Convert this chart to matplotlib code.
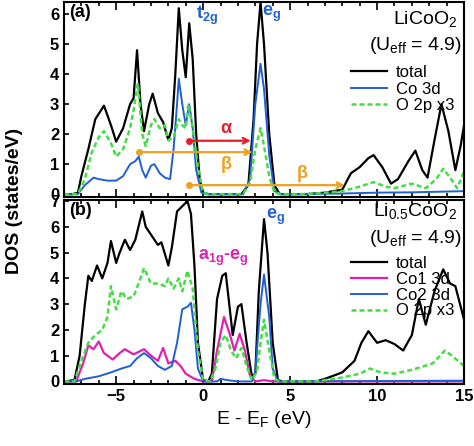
import matplotlib
matplotlib.use("Agg")
import matplotlib.pyplot as plt
from matplotlib.ticker import MultipleLocator

plt.rcParams['font.family'] = ['Liberation Sans', 'DejaVu Sans']
plt.rcParams['font.weight'] = 'bold'

# Panel (a) LiCoO2
a_tot_x = [-8,-7.5,-7.2,-7,-6.6,-6.2,-5.7,-5.3,-5,-4.6,-4.2,-4.0,-3.8,-3.6,-3.4,-3.1,-2.9,-2.6,-2.3,-2.0,-1.8,-1.6,-1.4,-1.2,-1.0,-0.8,-0.6,-0.4,-0.2,0,0.3,2.2,2.6,2.9,3.1,3.3,3.5,3.8,4.1,4.4,6,7,8,8.5,9,9.5,9.8,10.3,10.8,11.2,11.8,12.2,12.6,12.9,13.3,13.7,14.1,14.5,14.8,15]
a_tot_y = [0,0,0.05,0.6,1.5,2.5,2.95,2.3,1.75,2.2,3.0,3.2,4.8,3.0,2.1,3.0,3.35,2.7,2.4,1.8,2.2,4.0,6.2,4.8,3.9,5.7,4.5,2.0,0.5,0.05,0,0,0.3,2.5,5.0,6.4,5.0,2.0,0.3,0,0,0.05,0.15,0.7,0.9,1.2,1.3,0.9,0.35,0.5,1.1,1.45,0.8,0.55,1.8,3.0,2.1,0.8,1.6,2.3]
a_co_x = [-8,-7.2,-6.8,-6.3,-6.0,-5.5,-5,-4.6,-4.2,-3.9,-3.7,-3.5,-3.3,-3.0,-2.8,-2.5,-2.2,-1.9,-1.7,-1.5,-1.4,-1.2,-1.0,-0.8,-0.6,-0.4,-0.1,0.2,2.3,2.7,3.0,3.3,3.5,3.8,4.1,4.5,8,10,12,15]
a_co_y = [0,0,0.3,0.55,0.5,0.45,0.45,0.6,1.0,1.1,1.25,0.8,0.55,0.95,1.0,0.7,0.55,0.5,1.5,3.0,3.85,3.0,2.3,3.0,2.2,0.8,0.05,0,0,0.5,3.0,4.35,3.5,1.3,0.1,0,0.02,0.05,0.06,0.1]
a_o_x = [-8,-7.2,-6.8,-6.4,-6,-5.7,-5.3,-5.0,-4.6,-4.2,-4.0,-3.75,-3.5,-3.3,-3.0,-2.8,-2.5,-2.2,-2.0,-1.7,-1.4,-1.2,-1.0,-0.85,-0.6,-0.3,0,0.3,2.3,2.7,3.0,3.3,3.5,3.8,4.1,4.5,6,8,9,9.8,10.5,11,12,12.8,13.4,13.8,14.2,14.6,15]
a_o_y = [0,0,0.5,1.4,1.9,2.1,1.7,1.25,1.5,2.2,2.8,3.7,2.0,1.6,2.3,2.5,2.2,2.3,1.8,1.9,2.5,2.3,2.2,3.0,2.2,0.9,0.05,0,0,0.4,1.5,2.2,1.6,0.6,0.05,0,0,0.1,0.25,0.4,0.25,0.2,0.35,0.2,0.5,0.85,0.55,0.2,0.75]

# Panel (b) Li0.5CoO2
b_tot_x = [-8,-7.4,-7.1,-6.8,-6.6,-6.4,-6.1,-5.8,-5.5,-5.3,-5.0,-4.8,-4.5,-4.2,-3.9,-3.5,-3.3,-3.0,-2.6,-2.4,-2.0,-1.8,-1.5,-1.2,-0.9,-0.7,-0.5,-0.3,0,0.3,0.5,0.8,1.1,1.3,1.5,1.7,2.0,2.2,2.5,2.8,3.0,3.2,3.5,3.7,4.0,4.3,4.6,6.5,7,8,8.7,9.1,9.5,10,10.5,11,11.5,12,12.4,12.8,13.3,13.8,14.2,14.5,15]
b_tot_y = [0,0.05,1,3,4.1,3.9,4.5,4.0,4.6,5.45,4.6,5.0,5.5,5.1,5.5,6.6,6.0,5.7,5.3,5.4,4.5,5.2,6.6,6.8,7.0,6.5,4.5,1.5,0.05,0,0.3,3.2,4.1,4.2,3.0,1.8,2.9,3.0,1.5,0.2,0.3,3.5,6.3,5.0,1.5,0.05,0,0,0.1,0.35,0.8,1.5,1.95,1.5,1.6,1.45,1.2,1.8,3.2,2.2,3.5,4.35,3.8,3.7,2.4]
b_co1_x = [-8,-7.3,-6.9,-6.6,-6.3,-6.0,-5.7,-5.2,-4.8,-4.5,-4.0,-3.4,-3.0,-2.6,-2.3,-2.0,-1.6,-1.3,-1.0,-0.5,0,0.5,0.8,1.2,1.5,1.8,2.1,2.4,2.7,3.0,3.5,4,15]
b_co1_y = [0,0,0.7,1.4,1.25,1.55,1.1,0.85,1.1,1.25,1.05,1.25,1.0,0.8,1.3,0.7,0.8,0.6,0.3,0.1,0,0,1.2,2.5,1.9,1.2,1.85,1.2,0.2,0,0.05,0,0]
b_co2_x = [-8,-7.3,-6.8,-6,-5.3,-4.7,-4.2,-3.8,-3.4,-3.0,-2.6,-2.2,-1.8,-1.5,-1.2,-0.9,-0.7,-0.5,-0.3,0,0.8,1.0,1.4,2,2.8,3.0,3.3,3.5,3.8,4.0,4.3,15]
b_co2_y = [0,0,0.1,0.2,0.35,0.5,0.6,0.9,1.1,0.9,0.6,0.45,0.6,1.5,2.8,2.9,3.05,2.0,0.5,0,0,0.1,0.05,0,0,0.4,3.0,4.15,2.5,0.5,0,0.03]
b_o_x = [-8,-7.4,-7,-6.6,-6.2,-5.8,-5.5,-5.3,-5.0,-4.7,-4.4,-4.0,-3.6,-3.4,-3.0,-2.6,-2.2,-2.0,-1.7,-1.4,-1.2,-0.9,-0.6,-0.3,0,0.4,0.7,1.0,1.3,1.6,1.9,2.2,2.5,2.8,3.1,3.3,3.5,3.8,4.1,4.4,6.5,8,9,9.6,10.2,11,12,12.5,13.2,13.9,14.3,15]
b_o_y = [0,0,0.8,1.5,1.8,2.0,2.5,3.7,2.8,3.5,3.2,3.3,4.0,4.4,3.8,3.8,3.7,4.0,3.6,4.0,3.5,4.3,3.6,1.2,0.05,0,0.5,1.5,1.8,1.2,0.9,1.3,0.6,0.05,0.4,1.5,2.4,1.2,0.1,0,0,0.15,0.3,0.5,0.35,0.3,0.45,0.55,0.7,1.2,1.0,0.6]

xticks = [-5, 0, 5, 10, 15]
a_yticks = [0, 1, 2, 3, 4, 5, 6]
b_yticks = [0, 1, 2, 3, 4, 5, 6, 7]

BLACK, BLUE, GREEN, PINK = 'black', '#1f5fd6', '#44dd44', '#e01fb0'
RED, ORANGE = '#e0202a', '#f0a020'

fig = plt.figure(figsize=(4.74, 4.46), dpi=100)
axa = fig.add_axes([0.135, 0.558, 0.844, 0.437])
axb = fig.add_axes([0.135, 0.139, 0.844, 0.413])

axa.plot(a_tot_x, a_tot_y, color=BLACK, lw=1.6, label='total')
axa.plot(a_co_x, a_co_y, color=BLUE, lw=1.4, label='Co 3d')
axa.plot(a_o_x, a_o_y, color=GREEN, lw=1.8, ls=(0, (2, 1.2)), label='O 2p x3')

axb.plot(b_tot_x, b_tot_y, color=BLACK, lw=1.6, label='total')
axb.plot(b_co1_x, b_co1_y, color=PINK, lw=1.6, label='Co1 3d')
axb.plot(b_co2_x, b_co2_y, color=BLUE, lw=1.4, label='Co2 3d')
axb.plot(b_o_x, b_o_y, color=GREEN, lw=1.8, ls=(0, (2, 1.2)), label='O 2p x3')

# arrows in (a)
for (x0, x1, y, c) in [(-0.8, 2.9, 1.78, RED), (-3.7, 3.0, 1.4, ORANGE), (-0.8, 8.3, 0.3, ORANGE)]:
    axa.annotate('', xy=(x1, y), xytext=(x0, y),
                 arrowprops=dict(arrowstyle='->', color=c, lw=1.6))
    axa.plot([x0], [y], 'o', color=c, ms=4)
axa.text(1.3, 2.05, 'α', color=RED, fontsize=13, ha='center')
axa.text(1.3, 0.85, 'β', color=ORANGE, fontsize=13, ha='center')
axa.text(5.7, 0.55, 'β', color=ORANGE, fontsize=13, ha='center')

axa.text(-7.7, 6.35, '(a)', fontsize=13, va='top')
axb.text(-7.7, 6.95, '(b)', fontsize=13, va='top')
axa.text(-0.4, 6.35, r'$\mathregular{t_{2g}}$', color=BLUE, fontsize=13, va='top')
axa.text(3.4, 6.35, r'$\mathregular{e_{g}}$', color=BLUE, fontsize=13, va='top')
axa.text(14.6, 5.85, r'LiCoO$\mathregular{_2}$', fontsize=14, ha='right', va='center', weight='normal')
axa.text(14.9, 4.95, r'(U$\mathregular{_{eff}}$ = 4.9)', fontsize=14, ha='right', va='center', weight='normal')
axb.text(3.6, 6.3, r'$\mathregular{e_{g}}$', color=BLUE, fontsize=13)
axb.text(-0.3, 4.7, r'$\mathregular{a_{1g}}$-$\mathregular{e_{g}}$', color=PINK, fontsize=13)
axb.text(14.6, 6.6, r'Li$\mathregular{_{0.5}}$CoO$\mathregular{_2}$', fontsize=14, ha='right', va='center', weight='normal')
axb.text(14.9, 5.55, r'(U$\mathregular{_{eff}}$ = 4.9)', fontsize=14, ha='right', va='center', weight='normal')

axa.legend(loc='upper right', bbox_to_anchor=(1.0, 0.73), frameon=False,
           handlelength=2.2, handletextpad=0.5, labelspacing=0.1, borderaxespad=0.2,
           prop={'weight': 'normal', 'size': 12})
axb.legend(loc='upper right', bbox_to_anchor=(1.0, 0.75), frameon=False,
           handlelength=2.2, handletextpad=0.5, labelspacing=0.05, borderaxespad=0.2,
           prop={'weight': 'normal', 'size': 12})

for ax, yt, ytop in [(axa, a_yticks, 6.4), (axb, b_yticks, 7.05)]:
    ax.set_xlim(-8, 15)
    ax.set_ylim(-0.1, ytop)
    ax.set_yticks(yt)
    ax.set_xticks(xticks)
    ax.xaxis.set_minor_locator(MultipleLocator(1))
    ax.tick_params(axis='both', which='both', direction='in', top=True, labelsize=12, width=1.2)
    ax.tick_params(axis='x', which='major', length=6)
    ax.tick_params(axis='x', which='minor', length=3)
    for s in ax.spines.values():
        s.set_linewidth(1.5)
axa.set_xticklabels([])
axb.set_xlabel(r'E - E$\mathregular{_F}$ (eV)', fontsize=14, weight='normal')
fig.text(0.03, 0.55, 'DOS (states/eV)', rotation=90, fontsize=14, va='center', ha='center')

fig.savefig('out.png', dpi=100)
